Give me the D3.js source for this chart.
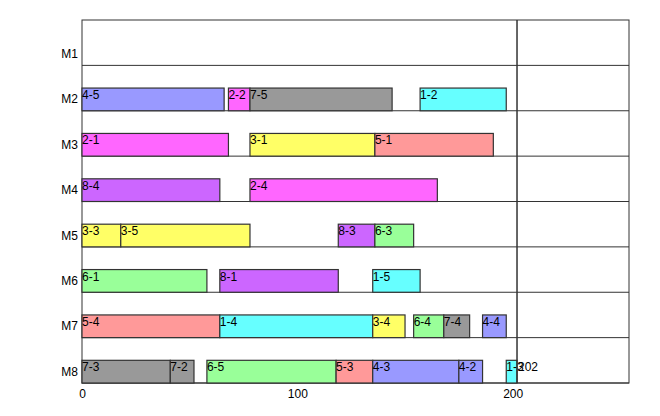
<!DOCTYPE html><html><head><meta charset="utf-8">
<script src="https://cdn.jsdelivr.net/npm/d3@7"></script>
<style>body{margin:0;background:#fff}text{font-family:"Liberation Sans",Arial,sans-serif;font-size:12px;fill:#000}</style>
</head><body><svg id="c" width="660" height="416"></svg><script>
const machines=["M1","M2","M3","M4","M5","M6","M7","M8"];
const taskMachine=["M2","M2","M2","M2","M3","M3","M3","M4","M4","M5","M5","M5","M5","M6","M6","M6","M7","M7","M7","M7","M7","M7","M8","M8","M8","M8","M8","M8","M8"];
const taskLabel=["4-5","2-2","7-5","1-2","2-1","3-1","5-1","8-4","2-4","3-3","3-5","8-3","6-3","6-1","8-1","1-5","5-4","1-4","3-4","6-4","7-4","4-4","7-3","7-2","6-5","5-3","4-3","4-2","1-3"];
const taskStart=[0,68,78,157,0,78,136,0,78,0,18,119,136,0,64,135,0,64,135,154,168,186,0,41,58,118,135,175,197];
const taskEnd=[66,78,144,197,68,136,191,64,165,18,78,136,154,58,119,157,64,135,150,168,180,197,41,52,118,135,175,186,202];
const makespan=202;
const xTicks=[0,100,200];
const jobColors={1:"#66ffff",2:"#ff66ff",3:"#ffff66",4:"#9999ff",5:"#ff9999",6:"#99ff99",7:"#999999",8:"#cc66ff"};
const svg=d3.select("#c");
const L=82,R=629,T=20,B=383;
const x=d3.scaleLinear().domain([0,254]).range([L,R]);
const y=d3.scaleBand().domain(machines).range([T,B]);
const g=svg.append("g");
// row lines
machines.forEach(m=>g.append("line").attr("x1",L).attr("x2",R).attr("y1",y(m)+y.bandwidth()).attr("y2",y(m)+y.bandwidth()).attr("stroke","#333"));
g.append("rect").attr("x",L).attr("y",T).attr("width",R-L).attr("height",B-T).attr("fill","none").attr("stroke","#333");
const bh=y.bandwidth()*0.5;
taskLabel.forEach((lab,i)=>{
  const m=taskMachine[i],yy=y(m)+y.bandwidth()-bh;
  g.append("rect").attr("x",x(taskStart[i])).attr("y",yy).attr("width",x(taskEnd[i])-x(taskStart[i])).attr("height",bh)
   .attr("fill",jobColors[lab.split("-")[0]]).attr("stroke","#333").attr("stroke-width",1.2);
});
taskLabel.forEach((lab,i)=>{
  const m=taskMachine[i],yy=y(m)+y.bandwidth()-bh;
  g.append("text").attr("x",x(taskStart[i])).attr("y",yy+11).text(lab);
});
g.append("line").attr("x1",x(makespan)).attr("x2",x(makespan)).attr("y1",T).attr("y2",B).attr("stroke","#333").attr("stroke-width",1.5);
g.append("text").attr("x",x(makespan)+1).attr("y",y("M8")+y.bandwidth()-bh+11).text(makespan);
machines.forEach(m=>g.append("text").attr("x",L-4).attr("y",y(m)+y.bandwidth()-bh/2+4).attr("text-anchor","end").text(m));
const ax=svg.append("g").attr("transform",`translate(0,${B})`).call(d3.axisBottom(x).tickValues(xTicks).tickSize(0).tickPadding(6));
ax.select(".domain").remove();
ax.selectAll("text").style("font-size","12px").style("font-family","Liberation Sans, Arial, sans-serif");
</script></body></html>
